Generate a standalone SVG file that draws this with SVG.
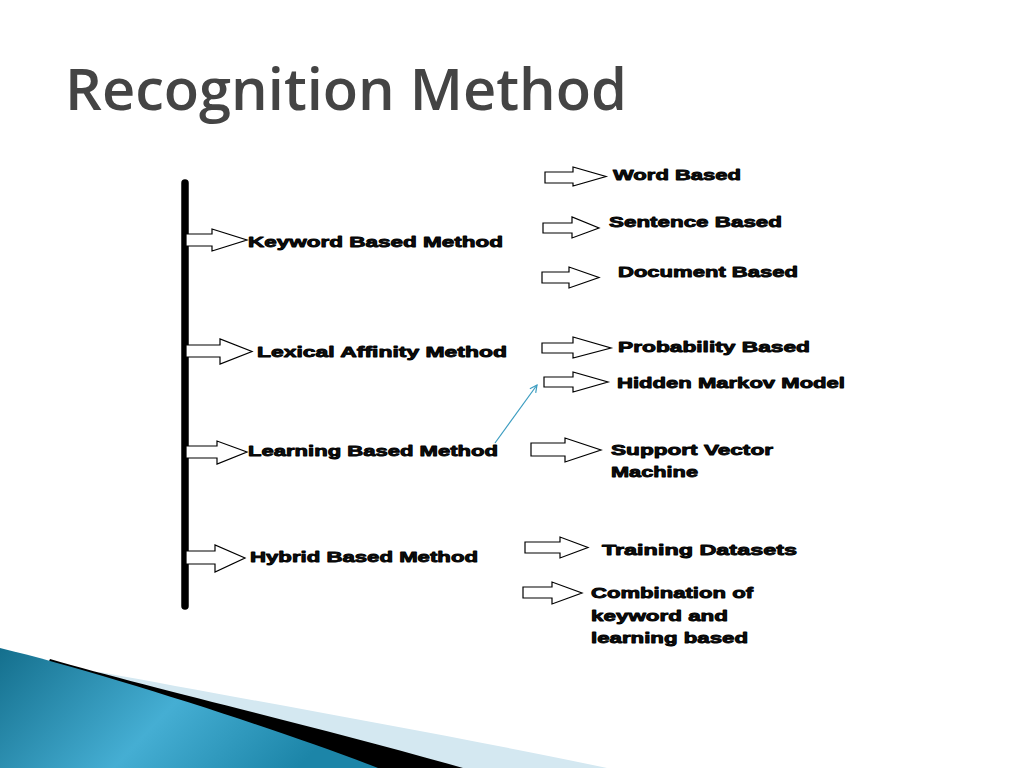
<svg xmlns="http://www.w3.org/2000/svg" width="1024" height="768" viewBox="0 0 1024 768">
<defs>
<style>
.title{font-family:"Open Sans","Noto Sans","Liberation Sans",sans-serif;font-size:58px;font-weight:600;fill:#444}
.lbl{font-family:"Liberation Sans",Arial,sans-serif;font-weight:bold;font-size:15.5px;fill:#111;stroke:#000;stroke-width:0.9;stroke-linejoin:round}
.blk{fill:#fff;stroke:#000;stroke-width:1.2;stroke-linejoin:miter}
.conn{fill:none;stroke:#3b9cc0;stroke-width:1.2}
</style>
<marker id="openV" viewBox="0 0 10 10" refX="9" refY="5" markerWidth="9" markerHeight="9" orient="auto" markerUnits="userSpaceOnUse">
<path d="M1,1 L9,5 L1,9" fill="none" stroke="#3b9cc0" stroke-width="1.3"/>
</marker>
<linearGradient id="teal" x1="0" y1="0" x2="1" y2="0.3">
<stop offset="0" stop-color="#146f8d"/>
<stop offset="0.55" stop-color="#45aed3"/>
<stop offset="1" stop-color="#1c85a8"/>
</linearGradient>
</defs>
<rect width="1024" height="768" fill="#fff"/>
<g id="decoration">
<path d="M100,672 C250,700 450,735 607,768 L0,768 Z" fill="#d4e8f1"/>
<path d="M50,659 C150,688 320,727 463,768 L0,768 Z" fill="#000"/>
<path d="M0,648 C100,672 280,730 378,768 L0,768 Z" fill="url(#teal)"/>
</g>
<g id="title"><text class="title" x="65" y="110" textLength="562" lengthAdjust="spacingAndGlyphs">Recognition Method</text></g>
<g id="bar"><line x1="185" y1="183" x2="185" y2="606" stroke="#000" stroke-width="7.5" stroke-linecap="round"/></g>
<g id="connectors">
<line class="conn" x1="495" y1="443" x2="537" y2="385" marker-end="url(#openV)"/>
</g>
<g id="keyword">
<polygon class="blk" points="186,234 212,234 212,229 247,240 212,251 212,246 186,246"/>
<text class="lbl" x="248" y="247" textLength="255" lengthAdjust="spacingAndGlyphs">Keyword Based Method</text>
</g>
<g id="lexical">
<polygon class="blk" points="186,345 220,345 220,339 252,351.5 220,364 220,357 186,357"/>
<text class="lbl" x="257" y="357" textLength="250" lengthAdjust="spacingAndGlyphs">Lexical Affinity Method</text>
</g>
<g id="learning">
<polygon class="blk" points="186,446 217,446 217,441 247,452 217,464 217,458 186,458"/>
<text class="lbl" x="248" y="456" textLength="250" lengthAdjust="spacingAndGlyphs">Learning Based Method</text>
</g>
<g id="hybrid">
<polygon class="blk" points="186,551 215,551 215,545 245,558 215,572 215,564 186,564"/>
<text class="lbl" x="250" y="562" textLength="228" lengthAdjust="spacingAndGlyphs">Hybrid Based Method</text>
</g>
<g id="word">
<polygon class="blk" points="545,172 573,172 573,167 606,176.5 573,186 573,183 545,183"/>
<text class="lbl" x="613" y="180" textLength="128" lengthAdjust="spacingAndGlyphs">Word Based</text>
</g>
<g id="sentence">
<polygon class="blk" points="543,223 572,223 572,217 599,228 572,238 572,233 543,233"/>
<text class="lbl" x="609" y="227" textLength="173" lengthAdjust="spacingAndGlyphs">Sentence Based</text>
</g>
<g id="document">
<polygon class="blk" points="542,272 569,272 569,267 599,277.5 569,288 569,283 542,283"/>
<text class="lbl" x="618" y="277" textLength="180" lengthAdjust="spacingAndGlyphs">Document Based</text>
</g>
<g id="probability">
<polygon class="blk" points="542,343 573,343 573,337 611,348 573,358 573,353 542,353"/>
<text class="lbl" x="618" y="352" textLength="192" lengthAdjust="spacingAndGlyphs">Probability Based</text>
</g>
<g id="hmm">
<polygon class="blk" points="544,377 573,377 573,372 608,382 573,392 573,387 544,387"/>
<text class="lbl" x="617" y="388" textLength="228" lengthAdjust="spacingAndGlyphs">Hidden Markov Model</text>
</g>
<g id="svm">
<polygon class="blk" points="531,443 565,443 565,438 601,450 565,462 565,456 531,456"/>
<text class="lbl" x="611" y="455" textLength="162" lengthAdjust="spacingAndGlyphs">Support Vector</text>
<text class="lbl" x="611" y="477" textLength="87" lengthAdjust="spacingAndGlyphs">Machine</text>
</g>
<g id="training">
<polygon class="blk" points="525,542 560,542 560,537 588,547.5 560,558 560,553 525,553"/>
<text class="lbl" x="602" y="555" textLength="195" lengthAdjust="spacingAndGlyphs">Training Datasets</text>
</g>
<g id="combination">
<polygon class="blk" points="523,587 552,587 552,582 582,593 552,604 552,598 523,598"/>
<text class="lbl" x="591" y="598" textLength="162" lengthAdjust="spacingAndGlyphs">Combination of</text>
<text class="lbl" x="591" y="621" textLength="137" lengthAdjust="spacingAndGlyphs">keyword and</text>
<text class="lbl" x="591" y="643" textLength="157" lengthAdjust="spacingAndGlyphs">learning based</text>
</g>
</svg>
